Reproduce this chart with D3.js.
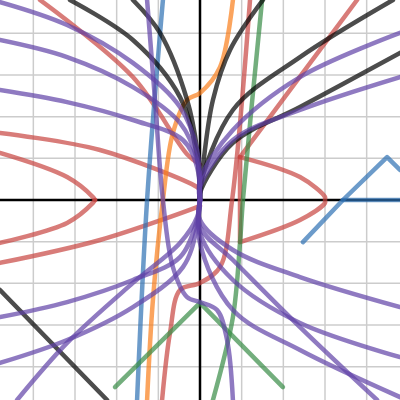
<!DOCTYPE html>
<html><head><meta charset="utf-8">
<script src="https://cdn.jsdelivr.net/npm/d3@7"></script>
<style>body{margin:0;background:#fff}svg{display:block}</style></head>
<body><svg id="c" width="400" height="400"></svg>
<script>
const xDomain=[-4.8,4.8], yDomain=[-4.8,4.8];
const gridTicks=[-4,-3,-2,-1,1,2,3,4];
const purpleCurves=[
 [[-4.8,4.75],[-3.19,4.2],[-1.61,3.29],[-0.48,2.23],[-0.07,1.2],[0,0]],
 [[-4.8,3.84],[-3.19,3.43],[-1.61,2.71],[-0.48,1.85],[-0.07,0.96],[0,0]],
 [[-4.8,2.64],[-3.19,2.35],[-1.61,1.92],[-0.41,1.44],[-0.07,0.79],[0,0]],
 [[-1.27,4.8],[-1.08,2.4],[-0.89,0],[-0.65,-1.61],[-0.31,-2.33],[0,-2.45],[0.41,-2.64],[0.65,-3.36],[0.79,-4.8]],
 [[0,0],[-0.07,-0.48],[-0.48,-1.37],[-1.61,-1.92],[-3.19,-2.45],[-4.8,-2.81]],
 [[0,0],[-0.07,-0.65],[-0.41,-1.61],[-1.61,-2.57],[-3.19,-3.36],[-4.8,-3.91]],
 [[0,0],[-0.07,-0.41],[-0.48,-1.03],[-1.61,-1.99],[-3.19,-3.43],[-4.39,-4.8]],
 [[0,0],[0,-0.48],[0.79,-1.2],[2.4,-1.85],[4.8,-2.57]],
 [[0,0],[0,-0.79],[0.79,-1.92],[2.4,-2.95],[4.8,-3.77]],
 [[0,0],[0,-1.03],[0.79,-2.64],[2.4,-3.6],[4.8,-4.73]],
 [[0,0],[0,-0.65],[0.79,-1.44],[2.4,-3.05],[4.25,-4.8]],
 [[0,0],[0,0.48],[0.79,1.68],[2.4,2.95],[4.8,4.01]],
 [[0,0],[0,0.31],[0.79,1.44],[2.4,2.16],[4.8,2.95]]
];
const blackCurves=[
 [[-3.12,4.8],[-1.61,3.84],[-0.48,2.47],[-0.07,1.03],[0,0]],
 [[-1.61,4.8],[-0.96,4.01],[-0.31,2.4],[-0.07,1.2],[0,0]],
 [[0,0],[0.07,0.79],[0.31,2.4],[0.72,3.6],[1.51,4.8]],
 [[0,0],[0,0.31],[0.79,2.16],[2.4,3.43],[4.63,4.8]],
 [[0,0],[0,0.17],[0.79,1.37],[2.4,2.23],[4.8,3.53]],
 [[-4.8,-2.16],[-2.23,-4.8]]
];
const redCurves=[
 [[-3.84,4.8],[-1.61,2.95],[-0.31,1.1],[0,0.85]],
 [[3.77,4.8],[0.96,1.03]],
 [[-2.52,0],[-2.57,0.07],[-3.19,0.55],[-4.8,1.13]],
 [[-2.52,0],[-2.57,-0.07],[-3.19,-0.55],[-4.8,-1.03]],
 [[-4.8,1.61],[-2.4,1.2],[-0.07,0.31],[0,0.24]],
 [[-4.8,-1.51],[-2.4,-0.96],[-0.07,-0.17],[0,-0.14]],
 [[0.96,1.03],[2.4,0.55],[3.0,0.07],[3.0,0],[3.0,-0.07],[2.4,-0.48],[0.96,-1.01]],
 [[0.96,1.03],[0.96,-1.01]],
 [[-0.91,-4.8],[-0.72,-3.19],[-0.48,-2.16],[0,-1.99],[0.48,-1.61],[0.77,0],[1.2,4.8]]
];
const orangeCurve=[[-1.27,-4.8],[-1.13,-2.4],[-0.89,0],[-0.65,1.61],[-0.31,2.4],[0,2.57],[0.48,3.19],[0.79,4.8]];
const blueCurves=[
 [[-0.89,4.8],[-1.27,0],[-1.51,-4.8]],
 [[2.47,-1.01],[3.43,0],[4.49,1.03],[4.8,0.72]],
 [[3.43,0],[4.8,0]]
];
const greenCurves=[
 [[1.49,4.8],[1.03,0],[0.96,-1.03],[0.79,-2.81],[0.31,-4.8]],
 [[-2.04,-4.49],[0,-2.47],[1.99,-4.49]]
];
const svg=d3.select("#c");
const x=d3.scaleLinear().domain(xDomain).range([0,400]);
const y=d3.scaleLinear().domain(yDomain).range([400,0]);
const g=svg.append("g");
gridTicks.forEach(t=>{
 g.append("line").attr("x1",x(t)).attr("x2",x(t)).attr("y1",0).attr("y2",400).attr("stroke","#ccc").attr("stroke-width",1.5);
 g.append("line").attr("y1",y(t)).attr("y2",y(t)).attr("x1",0).attr("x2",400).attr("stroke","#ccc").attr("stroke-width",1.5);
});
svg.append("line").attr("x1",x(0)).attr("x2",x(0)).attr("y1",0).attr("y2",400).attr("stroke","#000").attr("stroke-width",2.5);
svg.append("line").attr("y1",y(0)).attr("y2",y(0)).attr("x1",0).attr("x2",400).attr("stroke","#000").attr("stroke-width",2.5);
const line=d3.line().x(d=>x(d[0])).y(d=>y(d[1])).curve(d3.curveCatmullRom.alpha(0.5));
const straight=d3.line().x(d=>x(d[0])).y(d=>y(d[1]));
function draw(arr,color,gen){arr.forEach(c=>svg.append("path").attr("d",(gen||line)(c)).attr("fill","none").attr("stroke",color).attr("stroke-width",4.5).attr("stroke-opacity",0.7).attr("stroke-linecap","round").attr("stroke-linejoin","round"));}
draw(redCurves,"#c74440");
draw([orangeCurve],"#fa7e19");
draw(blueCurves.slice(0,1),"#2d70b3");
draw(blueCurves.slice(1),"#2d70b3",straight);
draw(greenCurves.slice(0,1),"#388c46");
draw(greenCurves.slice(1),"#388c46",straight);
draw(blackCurves.slice(0,5),"#000");
draw(blackCurves.slice(5),"#000",straight);
draw(purpleCurves,"#6042a6");
</script></body></html>
